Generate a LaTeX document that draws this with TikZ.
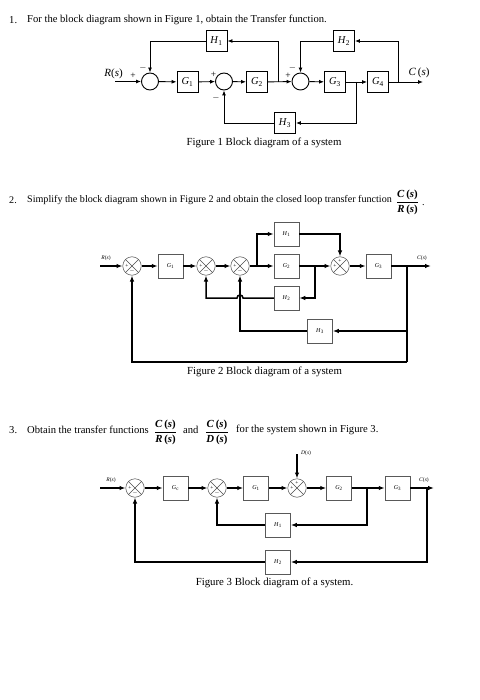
\documentclass[tikz,border=0pt]{standalone}
\usepackage{fontspec}
\setmainfont{Liberation Serif}
\usetikzlibrary{arrows.meta}
\newcommand{\lbl}[2]{\textit{#1}\textsubscript{#2}}
\newcommand{\fr}[2]{$\displaystyle\frac{\textbf{\textit{#1}}\,\textbf{(}\textbf{\textit{s}}\textbf{)}}{\textbf{\textit{#2}}\,\textbf{(}\textbf{\textit{s}}\textbf{)}}$}
\begin{document}
\begin{tikzpicture}[x=1pt,y=-1pt,
  qtext/.style={anchor=west,inner sep=0,font=\fontsize{10.6}{12}\selectfont},
  qtextb/.style={anchor=west,inner sep=0,font=\fontsize{10.1}{12}\selectfont},
  frac/.style={inner sep=0,font=\fontsize{10.8}{12}\selectfont},
  captxt/.style={inner sep=0,font=\fontsize{10.8}{12}\selectfont},
  f1box/.style={draw,line width=0.9pt,minimum width=21pt,minimum height=21pt,inner sep=0,font=\fontsize{10.5}{12}\selectfont},
  f1sum/.style={draw,circle,line width=0.9pt,minimum size=17pt,inner sep=0},
  f1arr/.style={line width=0.9pt,-{Latex[length=5pt,width=4pt]}},
  f1sign/.style={inner sep=0,font=\fontsize{9.5}{10}\selectfont},
  f1io/.style={inner sep=0,font=\fontsize{11}{12}\selectfont},
  xbox/.style={draw=black!65,line width=0.5pt,minimum width=25pt,minimum height=24pt,inner sep=0,font=\fontsize{6}{7}\selectfont},
  xsum/.style={draw=black!70,circle,line width=0.5pt,minimum size=18.5pt,inner sep=0,
    path picture={\draw[black!70,line width=0.45pt] (path picture bounding box.center) +(45:10pt) -- +(225:10pt) (path picture bounding box.center) +(135:10pt) -- +(-45:10pt);}},
  xline/.style={line width=1.5pt},
  xarr/.style={line width=1.5pt,-{Latex[length=6pt,width=4.5pt]}},
  xsign/.style={inner sep=0,font=\fontsize{5.5}{6}\selectfont},
  xio/.style={inner sep=0,font=\fontsize{5.5}{6}\selectfont}]
\fill[white] (0,0) rectangle (479,700);
\useasboundingbox (0,0) rectangle (479,700);

% ---------- Question 1 ----------
\node[qtext] (n1) at (9,20) {1.};
\node[qtext] (q1) at (27,20) {For the block diagram shown in Figure 1, obtain the Transfer function.};

% Figure 1
\node[f1io,anchor=east] (r1) at (123,74) {\textit{R}(\textit{s})};
\coordinate (in1) at (115,81.5);
\node[f1sum] (s11) at (150,81.5) {};
\node[f1box] (g1) at (187.5,82) {\lbl{G}{1}};
\node[f1sum] (s12) at (224,81.5) {};
\node[f1box] (g2) at (257,82) {\lbl{G}{2}};
\node[f1sum] (s13) at (300.5,81.5) {};
\node[f1box] (g3) at (335,82) {\lbl{G}{3}};
\node[f1box] (g4) at (378,82) {\lbl{G}{4}};
\coordinate (out1) at (423,82);
\node[f1io] (c1) at (419,73) {\textit{C}\,(\textit{s})};
\node[f1box] (h1) at (216.5,41) {\lbl{H}{1}};
\node[f1box] (h2) at (344,41) {\lbl{H}{2}};
\node[f1box] (h3) at (285,123) {\lbl{H}{3}};
\coordinate (b1) at (278,82);
\coordinate (b2) at (356,82);
\coordinate (b3) at (398,82);

\node[f1sign] (p11) at (133,76) {+};
\node[f1sign] (m11) at (143,68) {$-$};
\node[f1sign] (p12) at (213.5,75) {+};
\node[f1sign] (m12) at (216,98) {$-$};
\node[f1sign] (p13) at (288,76) {+};
\node[f1sign] (m13) at (292.5,68) {$-$};

\draw[f1arr] (in1) -- (s11);
\draw[f1arr] (s11) -- (g1);
\draw[f1arr] (g1) -- (s12);
\draw[f1arr] (s12) -- (g2);
\draw[f1arr] (g2) -- (s13);
\draw[f1arr] (s13) -- (g3);
\draw[f1arr] (g3) -- (g4);
\draw[f1arr] (g4) -- (out1);
\draw[f1arr] (b1) |- (h1);
\draw[f1arr] (h1) -| (s11);
\draw[f1arr] (b3) |- (h2);
\draw[f1arr] (h2) -| (s13);
\draw[f1arr] (b2) |- (h3);
\draw[f1arr] (h3) -| (s12);

\node[captxt] (cap1) at (264,143) {Figure 1 Block diagram of a system};

% ---------- Question 2 ----------
\node[qtextb] (n2) at (9,200) {2.};
\node[qtextb] (q2) at (27,200) {Simplify the block diagram shown in Figure 2 and obtain the closed loop transfer function};
\node[frac] (f2) at (407.5,202) {\fr{C}{R}};
\node[qtextb] (d2) at (422,205) {.};

% Figure 2
\coordinate (in2) at (100,266);
\node[xio] (r2) at (106,258) {\textit{R}(\textit{s})};
\node[xsum] (s21) at (132,266) {};
\node[xbox] (g21) at (170.5,266) {\lbl{G}{1}};
\node[xsum] (s22) at (206,266) {};
\node[xsum] (s23) at (240,266) {};
\node[xbox] (h21) at (286.5,234) {\lbl{H}{1}};
\node[xbox] (g22) at (286.5,266) {\lbl{G}{2}};
\node[xbox] (h22) at (286.5,298) {\lbl{H}{2}};
\node[xsum] (s24) at (340,266) {};
\node[xbox] (g23) at (378.5,266) {\lbl{G}{3}};
\node[xbox] (h23) at (320,331) {\lbl{H}{3}};
\coordinate (out2) at (431,266);
\node[xio] (c2) at (422,258) {\textit{C}(\textit{s})};
\coordinate (b21) at (257,266);
\coordinate (b22) at (315,266);
\coordinate (b23) at (407,266);
\coordinate (b24) at (407,331);
\coordinate (b25) at (407,362);

\foreach \s in {s21,s22,s23}{
  \node[xsign] at ([xshift=-5pt]\s.center) {+};
  \node[xsign] at ([yshift=-5.5pt]\s.center) {$-$};
}
\node[xsign] (p24a) at ([yshift=5.5pt]s24.center) {+};
\node[xsign] (p24b) at ([xshift=-5pt]s24.center) {+};

\draw[xarr] (in2) -- (s21);
\draw[xarr] (s21) -- (g21);
\draw[xarr] (g21) -- (s22);
\draw[xarr] (s22) -- (s23);
\draw[xarr] (s23) -- (g22);
\draw[xarr] (b21) |- (h21);
\draw[xarr] (h21) -| (s24);
\draw[xarr] (g22) -- (s24);
\draw[xarr] (b22) |- (h22);
\draw[xarr] (h22.west) -- (243,298) arc (0:180:3pt) -- (206,298) -- (s22.south);
\draw[xarr] (s24) -- (g23);
\draw[xarr] (g23) -- (out2);
\draw[xline] (b23) -- (b25);
\draw[xarr] (b24) -- (h23);
\draw[xarr] (h23.west) -| (s23.south);
\draw[xarr] (b25) -| (s21.south);

\node[captxt] (cap2) at (264.5,372) {Figure 2 Block diagram of a system};

% ---------- Question 3 ----------
\node[qtext] (n3) at (9,430) {3.};
\node[qtext] (q3a) at (27,430) {Obtain the transfer functions};
\node[frac] (f31) at (165.5,432) {\fr{C}{R}};
\node[qtext] (q3b) at (183,430) {and};
\node[frac] (f32) at (217,432) {\fr{C}{D}};
\node[qtext] (q3c) at (236,430) {for the system shown in Figure 3.};

% Figure 3
\coordinate (in3) at (100,488);
\node[xio] (r3) at (111,480) {\textit{R}(\textit{s})};
\node[xsum] (s31) at (135,488) {};
\node[xbox] (gc) at (175.5,488) {\lbl{G}{c}};
\node[xsum] (s32) at (217,488) {};
\node[xbox] (g31) at (256,488) {\lbl{G}{1}};
\node[xsum] (s33) at (297,488) {};
\node[xbox] (g32) at (339,488) {\lbl{G}{2}};
\node[xbox] (g33) at (397.5,488) {\lbl{G}{3}};
\node[xbox] (h31) at (278,525) {\lbl{H}{1}};
\node[xbox] (h32) at (278,562) {\lbl{H}{2}};
\coordinate (out3) at (434,488);
\node[xio] (c3) at (424,480) {\textit{C}(\textit{s})};
\coordinate (din) at (297,454);
\node[xio,anchor=west] (d3) at (301,453) {\textit{D}(\textit{s})};
\coordinate (b31) at (367,488);
\coordinate (b32) at (427,488);

\foreach \s in {s31,s32}{
  \node[xsign] at ([xshift=-5pt]\s.center) {+};
  \node[xsign] at ([yshift=-5.5pt]\s.center) {$-$};
}
\node[xsign] (p33a) at ([yshift=5.5pt]s33.center) {+};
\node[xsign] (p33b) at ([xshift=-5pt]s33.center) {+};

\draw[xarr] (in3) -- (s31);
\draw[xarr] (s31) -- (gc);
\draw[xarr] (gc) -- (s32);
\draw[xarr] (s32) -- (g31);
\draw[xarr] (g31) -- (s33);
\draw[xarr] (s33) -- (g32);
\draw[xarr] (g32) -- (g33);
\draw[xarr] (g33) -- (out3);
\draw[xarr] (din) -- (s33);
\draw[xarr] (b31) |- (h31);
\draw[xarr] (h31) -| (s32);
\draw[xarr] (b32) |- (h32);
\draw[xarr] (h32) -| (s31);

\node[captxt] (cap3) at (274.5,583) {Figure 3 Block diagram of a system.};
\end{tikzpicture}
\end{document}
